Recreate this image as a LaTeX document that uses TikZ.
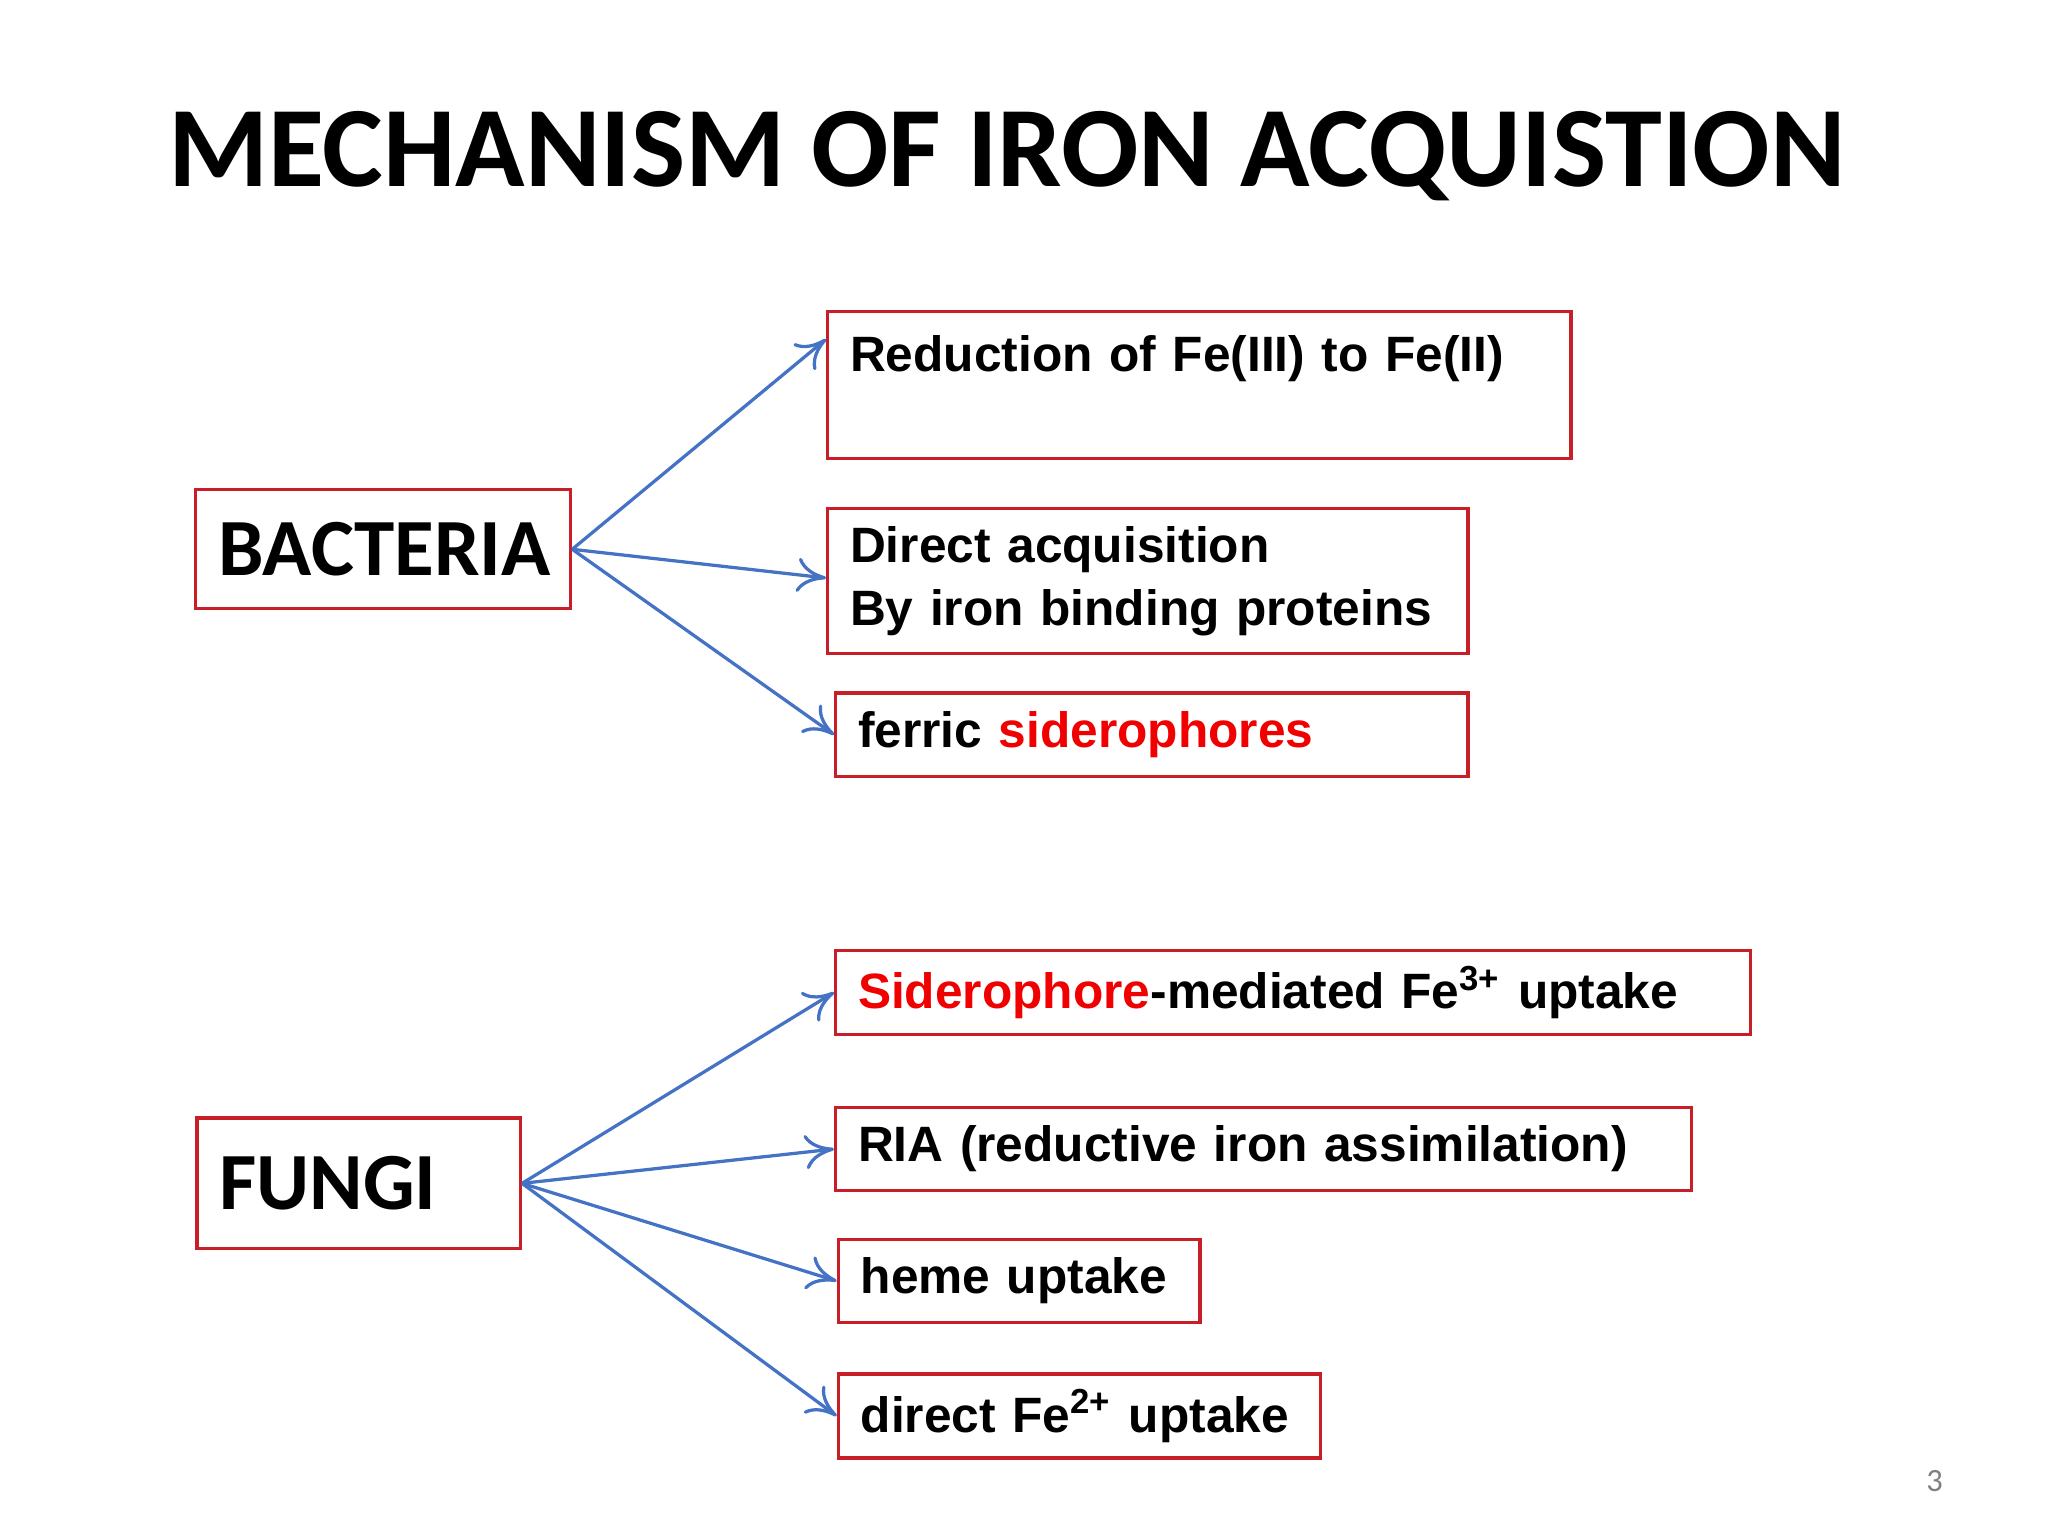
\documentclass[tikz,border=0pt]{standalone}
\usepackage{fontspec}
\setmainfont{Liberation Sans}
\newfontfamily\calfont{Carlito}
\usetikzlibrary{arrows.meta}
\definecolor{boxred}{RGB}{200,30,40}
\definecolor{arrblue}{RGB}{68,114,196}
\definecolor{hotred}{RGB}{240,0,0}
\begin{document}
\begin{tikzpicture}[x=0.01cm,y=-0.01cm]
			\tikzset{box/.style={draw=boxred, line width=0.7pt, anchor=north west, align=left,
			         inner xsep=0.17cm, font=\fontsize{10.7}{13.5}\selectfont\bfseries},
			         head/.style={draw=boxred, line width=0.7pt, anchor=north west, align=left,
			         inner xsep=0.17cm, font=\calfont\fontsize{17.5}{20}\selectfont\bfseries},
			         link/.style={draw=arrblue, line width=0.7pt, -{To[length=2.2mm,width=2.6mm]}}}
			\useasboundingbox (0,0) rectangle (1552,1164);
			\node[font=\calfont\fontsize{24.7}{30}\selectfont\bfseries] (title) at (763,118) {MECHANISM OF IRON ACQUISTION};
			% bacteria
			\node[head, text width=2.5cm, minimum height=0.9cm] (bact) at (147,370) {BACTERIA};
			\node[box, text width=5.29cm, minimum height=1.11cm] (red) at (626,235) {Reduction of Fe(III) to Fe(II)\\ \mbox{}};
			\node[box, text width=4.51cm, minimum height=1.10cm] (dir) at (626,384) {Direct acquisition\\By iron binding proteins};
			\node[box, text width=4.45cm, minimum height=0.63cm] (fer) at (632,524) {ferric \textcolor{hotred}{siderophores}};
			% fungi
			\node[head, text width=2.11cm, minimum height=0.99cm] (fung) at (148,846) {FUNGI};
			\node[box, text width=6.59cm, minimum height=0.62cm] (sid) at (632,719) {\textcolor{hotred}{Siderophore}-mediated Fe\textsuperscript{3+} uptake};
			\node[box, text width=6.14cm, minimum height=0.63cm] (ria) at (632,838) {RIA (reductive iron assimilation)};
			\node[box, text width=2.40cm, minimum height=0.63cm] (heme) at (634,938) {heme uptake};
			\node[box, text width=3.31cm, minimum height=0.63cm] (fe2) at (634,1040) {direct Fe\textsuperscript{2+} uptake};
			\node[text=gray, font=\calfont\fontsize{7}{8}\selectfont] (page) at (1466,1122) {3};
			\draw[link] (bact.east) -- (red.north west |- 0,257);
			\draw[link] (bact.east) -- (dir.west |- 0,438);
			\draw[link] (bact.east) -- (fer.west);
			\draw[link] (fung.east) -- (sid.west);
			\draw[link] (fung.east) -- (ria.west);
			\draw[link] (fung.east) -- (heme.west);
			\draw[link] (fung.east) -- (fe2.west);
		\end{tikzpicture}
\end{document}
